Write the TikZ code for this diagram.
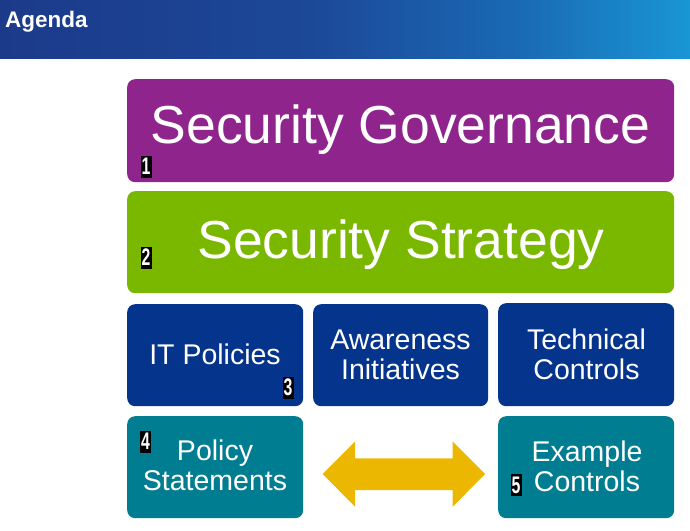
\documentclass[tikz,border=0pt]{standalone}
\usepackage{fontspec}
\setmainfont{Liberation Sans}
\definecolor{hdrA}{RGB}{28,58,138}
\definecolor{hdrB}{RGB}{28,72,152}
\definecolor{hdrC}{RGB}{26,105,180}
\definecolor{hdrD}{RGB}{25,150,212}
\definecolor{purp}{RGB}{142,36,140}
\definecolor{grn}{RGB}{122,184,0}
\definecolor{navy}{RGB}{4,52,140}
\definecolor{teal}{RGB}{0,125,145}
\definecolor{gold}{RGB}{236,183,0}
\pgfdeclarehorizontalshading{hdrshade}{100bp}{color(0bp)=(hdrA); color(25bp)=(hdrA); color(47.5bp)=(hdrB); color(62.5bp)=(hdrC); color(75bp)=(hdrD); color(100bp)=(hdrD)}
\tikzset{
  box/.style={rounded corners=8pt, inner sep=0pt, anchor=north west, draw=none},
  bigtext/.style={text=white, inner sep=0pt, anchor=base, font=\fontsize{53.5}{60}\selectfont},
  smalltext/.style={text=white, inner sep=0pt, anchor=base, align=center, font=\fontsize{28.5}{30}\selectfont},
  badge/.style={fill=black, text=white, inner sep=0pt, minimum width=11pt, minimum height=22pt, font=\fontsize{24}{24}\selectfont\bfseries}
}
\newcommand{\bdg}[1]{\scalebox{0.66}[1]{#1}}
\begin{document}
\begin{tikzpicture}[x=1pt,y=-1pt]
\useasboundingbox (0,0) rectangle (690,530);
\shade[shading=hdrshade] (0,0) rectangle (690,58);
\node[anchor=base west, text=white, inner sep=0pt, font=\fontsize{22.5}{27}\selectfont\bfseries] (agenda) at (5,27.5) {Agenda};

\node[box, fill=purp, minimum width=547pt, minimum height=103pt] (gov) at (127,79) {};
\node[box, fill=grn, minimum width=547pt, minimum height=102pt] (str) at (127,191) {};
\node[box, fill=navy, minimum width=176pt, minimum height=102pt] (itp) at (127,304) {};
\node[box, fill=navy, minimum width=175pt, minimum height=102pt] (awa) at (313,304) {};
\node[box, fill=navy, minimum width=176pt, minimum height=103pt] (tec) at (498,303) {};
\node[box, fill=teal, minimum width=176pt, minimum height=102pt] (pol) at (127,416) {};
\node[box, fill=teal, minimum width=176pt, minimum height=102pt] (exa) at (498,416) {};

\node[bigtext] (govt) at (400.5,143) {Security Governance};
\node[bigtext] (strt) at (401,258) {Security Strategy};
\node[smalltext] (itpt) at (215,364) {IT Policies};
\node[smalltext] (awat) at (400.5,379) {Awareness\\Initiatives};
\node[smalltext] (tect) at (586.5,379) {Technical\\Controls};
\node[smalltext] (polt) at (215,490.5) {Policy\\Statements};
\node[smalltext] (exat) at (587,491) {Example\\Controls};

\node[badge] (b1) at (146,166.5) {\bdg{1}};
\node[badge] (b2) at (146,257.5) {\bdg{2}};
\node[badge] (b3) at (288,387.5) {\bdg{3}};
\node[badge] (b4) at (145.5,441.5) {\bdg{4}};
\node[badge] (b5) at (516,485) {\bdg{5}};

\fill[gold] (322.7,474) -- (355,441.7) -- (355,458.3) -- (452.7,458.3) -- (452.7,441.7)
  -- (485,474) -- (452.7,506.7) -- (452.7,490) -- (355,490) -- (355,506.7) -- cycle;
\end{tikzpicture}
\end{document}
